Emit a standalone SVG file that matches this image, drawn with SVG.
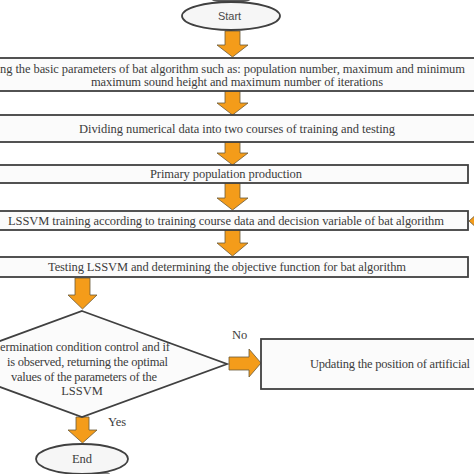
<svg xmlns="http://www.w3.org/2000/svg" width="474" height="474" viewBox="0 0 474 474">
<style>
.box{fill:#fbfbfb;stroke:#404040;stroke-width:1.8}
.term{fill:#f6f6f6;stroke:#404040;stroke-width:1.8}
.arr{fill:#f49c1a;stroke:#6b5a3a;stroke-width:0.8;stroke-linejoin:miter}
.t{font-family:"Liberation Serif","Times New Roman",serif;font-size:12.5px;fill:#3c3c3c}
.s{font-family:"Liberation Sans",Arial,sans-serif;font-size:11px;fill:#4a4a4a}
.m{text-anchor:middle}
</style>
<rect width="474" height="474" fill="#ffffff"/>
<g id="connectors">
<polygon class="arr" points="225,31 240,31 240,45 248,45 232.5,57 217,45 225,45"/>
<polygon class="arr" points="225,91 240,91 240,103 248,103 232.5,115 217,103 225,103"/>
<polygon class="arr" points="225,142 240,142 240,153 248,153 232.5,165 217,153 225,153"/>
<polygon class="arr" points="225,183 240,183 240,198 248,198 232.5,210 217,198 225,198"/>
<polygon class="arr" points="225,230 240,230 240,243 248,243 232.5,256 217,243 225,243"/>
<polygon class="arr" points="75,278 90,278 90,295 97,295 82.5,309 68,295 75,295"/>
<polygon class="arr" points="76,417 89,417 89,430 97,430 82.5,443 68,430 76,430"/>
<polygon class="arr" points="229,357 249,357 249,349 261,363 249,377 249,370 229,370"/>
<polygon class="arr" points="469,221 479,212 479,230"/>
<text class="t" x="232" y="339">No</text>
<text class="t" x="108" y="426">Yes</text>
</g>
<g id="start">
<ellipse cx="231" cy="-1" rx="20" ry="4" fill="#5a5a5a"/>
<ellipse class="term" cx="231" cy="16" rx="49" ry="14"/>
<text class="s m" x="229.5" y="20">Start</text>
</g>
<g id="params">
<rect class="box" x="-20" y="58" width="520" height="33"/>
<text class="t" x="0" y="73" textLength="465">ng the basic parameters of bat algorithm such as: population number, maximum and minimum</text>
<text class="t m" x="237" y="86" textLength="292">maximum sound height and maximum number of iterations</text>
</g>
<g id="divide">
<rect class="box" x="-20" y="115" width="520" height="27"/>
<text class="t m" x="237" y="133" textLength="316">Dividing numerical data into two courses of training and testing</text>
</g>
<g id="population">
<rect class="box" x="-16" y="165" width="484" height="18"/>
<text class="t m" x="226" y="178" textLength="152">Primary population production</text>
</g>
<g id="training">
<rect class="box" x="-16" y="211" width="484" height="19"/>
<text class="t" x="8" y="225" textLength="436">LSSVM training according to training course data and decision variable of bat algorithm</text>
</g>
<g id="testing">
<rect class="box" x="-16" y="257" width="484" height="20"/>
<text class="t" x="48" y="271" textLength="358">Testing LSSVM and determining the objective function for bat algorithm</text>
</g>
<g id="decision">
<polygon class="box" points="82,311 227,364 82,417 -63,364"/>
<text class="t" x="0" y="351" textLength="170">ermination condition control and if</text>
<text class="t" x="7" y="366" textLength="161">is observed, returning the optimal</text>
<text class="t m" x="84" y="381" textLength="146">values of the parameters of the</text>
<text class="t m" x="82" y="395">LSSVM</text>
</g>
<g id="update">
<rect class="box" x="261" y="339" width="230" height="50"/>
<text class="t" x="310" y="368" textLength="160">Updating the position of artificial</text>
</g>
<g id="end">
<ellipse cx="88" cy="474" rx="22" ry="4" fill="#8a8a8a"/>
<ellipse class="term" cx="82" cy="459" rx="46" ry="15"/>
<text class="t m" x="82" y="463">End</text>
</g>
</svg>
